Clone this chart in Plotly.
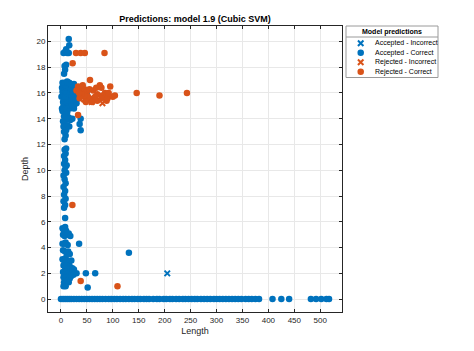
import plotly.graph_objects as go

# ---------------- data ----------------
# Accepted - Correct (blue circles)
ac_len_zero = [0, 4, 8, 12, 16, 20, 25, 30, 35, 40, 45, 50, 55, 60, 65, 70, 75, 80, 86, 92,
               97, 103, 108, 114, 120, 125, 131, 137, 142, 148, 153, 160, 165, 170, 178, 185,
               190, 198, 203, 210, 215, 222, 228, 235, 240, 246, 252, 258, 263, 270, 276, 282,
               288, 295, 300, 306, 312, 318, 324, 330, 336, 342, 348, 356, 362, 368, 375, 382,
               408, 425, 440, 482, 492, 502, 512, 517]
ac_dep_zero = [0] * len(ac_len_zero)

ac_len_low = [3, 5, 8, 10, 4, 7, 12, 15, 18, 3, 6, 9, 13, 35, 4, 8, 11, 14, 17, 3, 6, 9, 12, 16,
              20, 5, 8, 11, 14, 18, 22, 25, 4, 7, 10, 13, 16, 19, 22, 26, 30, 48, 66, 5, 8, 11,
              14, 17, 20, 24, 6, 9, 12, 15, 5, 9, 51.5, 131, 8]
ac_dep_low = [5.5, 5.4, 5.6, 5.3, 5.0, 4.9, 5.0, 5.1, 4.9, 4.3, 4.3, 4.4, 4.2, 4.3, 3.8, 3.7, 3.6,
              3.7, 3.5, 3.1, 3.0, 3.2, 3.0, 2.9, 3.0, 2.6, 2.5, 2.6, 2.4, 2.5, 2.4, 2.3, 2.1, 2.0,
              2.1, 2.0, 2.0, 2.1, 2.0, 2.0, 2.0, 2.0, 2.0, 1.7, 1.6, 1.7, 1.5, 1.6, 1.8, 1.9, 1.3,
              1.2, 1.4, 1.3, 1.0, 1.0, 0.9, 3.6, 6.3]

ac_len_mid = [6, 8, 5, 9, 6, 8, 5, 9, 7, 5, 10, 7, 9, 6, 11, 8, 6, 9, 7, 10,
              7, 9, 6, 10, 5, 12, 16, 36, 38, 38, 4, 8, 13, 18, 6, 11, 15, 22, 3, 7, 12, 17, 25,
              5, 10, 20]
ac_dep_mid = [7.1, 7.3, 7.6, 7.8, 8.1, 8.4, 8.7, 9.0, 9.3, 9.6, 9.8, 10.0, 10.3, 10.5, 10.4,
              10.8, 11.1, 11.3, 11.6, 11.7, 12.4, 12.7, 13.0, 13.1, 13.4, 13.5, 13.4, 13.6, 13.1,
              14.0, 13.8, 13.9, 14.0, 13.9, 14.2, 14.3, 14.1, 14.0, 14.6, 14.7, 14.5, 14.8, 14.8,
              15.0, 15.1, 15.0]

ac_len_top = [2, 6, 10, 14, 18, 22, 26, 30, 4, 8, 12, 16, 20, 24, 28, 34, 40, 1, 5, 9, 13, 17,
              21, 25, 29, 33, 38, 45, 50, 3, 7, 11, 15, 19, 23, 27, 31, 36, 42, 2, 6, 10, 14, 18,
              22, 26, 30, 35, 5, 9, 13, 17, 21, 25, 3, 8, 12, 16, 20,
              6, 8, 7, 10, 5, 8, 10, 12, 15, 16, 15]
ac_dep_top = [14.8, 14.9, 14.8, 14.9, 15.0, 15.0, 15.1, 15.2, 15.3, 15.4, 15.3, 15.4, 15.5, 15.4,
              15.5, 15.6, 15.8, 15.7, 15.8, 15.7, 15.8, 15.9, 15.8, 15.9, 16.0, 15.9, 16.0, 15.9,
              15.9, 16.1, 16.2, 16.1, 16.2, 16.1, 16.2, 16.3, 16.2, 16.1, 16.0, 16.4, 16.5, 16.4,
              16.5, 16.4, 16.5, 16.4, 16.3, 16.3, 16.7, 16.6, 16.8, 16.7, 16.6, 16.7, 16.8, 16.8,
              16.9, 16.8, 16.7, 17.5, 17.8, 18.1, 18.2, 19.1, 19.2, 19.4, 19.1, 19.1, 19.7, 20.2]

ac_len = ac_len_zero + ac_len_low + ac_len_mid + ac_len_top
ac_dep = ac_dep_zero + ac_dep_low + ac_dep_mid + ac_dep_top

# Accepted - Incorrect (blue crosses)
ai_len = [205, 26]
ai_dep = [2.0, 15.5]

# Rejected - Correct (orange circles)
rc_len = [38, 109, 22, 33, 22.5, 29, 38, 46, 84, 56, 33, 40, 45, 50, 55, 62, 68, 75, 78, 85, 80,
          70, 63, 58, 52, 45, 40, 36, 48, 60, 70, 78, 88, 90, 95, 100, 104, 92, 66, 30, 35, 42,
          146, 190, 243]
rc_dep = [1.4, 1.0, 7.3, 14.3, 18.3, 19.1, 19.1, 19.1, 19.1, 17.0, 16.5, 16.4, 16.3, 16.1, 16.3,
          16.2, 16.4, 16.6, 16.4, 16.0, 15.8, 15.9, 15.6, 15.5, 15.7, 15.8, 15.9, 15.6, 15.3,
          15.3, 15.4, 15.6, 15.4, 15.6, 16.5, 15.7, 15.8, 16.0, 15.7, 16.2, 16.0, 16.6,
          16.0, 15.8, 16.0]

# Rejected - Incorrect (orange crosses)
ri_len = [59, 45, 80]
ri_dep = [15.3, 15.5, 15.2]

x_ticks = [0, 50, 100, 150, 200, 250, 300, 350, 400, 450, 500]
y_ticks = [0, 2, 4, 6, 8, 10, 12, 14, 16, 18, 20]

legend_title = "Model predictions"
legend_names = ["Accepted - Incorrect", "Accepted - Correct",
                "Rejected - Incorrect", "Rejected - Correct"]

BLUE = "#0072BD"
ORANGE = "#D95319"
FONT = "Liberation Sans"
W, H = 474, 351
PL, PR, PT, PB = 48, 342, 26, 312   # plot box in pixels

def px(x):
    return x / W

def py(y):
    return 1 - y / H

x_marker = dict(symbol="x-thin", size=5.5, line=dict(width=2))
o_marker = dict(symbol="circle", size=6.5)
styles = [
    dict(x_marker, color=BLUE, line=dict(width=2, color=BLUE)),
    dict(o_marker, color=BLUE),
    dict(x_marker, color=ORANGE, line=dict(width=2, color=ORANGE)),
    dict(o_marker, color=ORANGE),
]

fig = go.Figure()
series = [(ai_len, ai_dep), (ac_len, ac_dep), (ri_len, ri_dep), (rc_len, rc_dep)]
for (xs, ys), name, st in zip(series, legend_names, styles):
    fig.add_trace(go.Scatter(x=xs, y=ys, mode="markers", name=name, marker=st,
                             showlegend=False, xaxis="x", yaxis="y"))

# ---- custom legend (MATLAB style, compact) ----
leg_x0, leg_x1, leg_y0, leg_y1 = 346, 438, 26, 77.5
row_y = [43.3, 52.7, 62.3, 71.7]
for name, st, ry in zip(legend_names, styles, row_y):
    fig.add_trace(go.Scatter(x=[360.7], y=[ry], mode="markers", marker=st,
                             showlegend=False, xaxis="x2", yaxis="y2", cliponaxis=False,
                             hoverinfo="skip"))

shapes = [
    dict(type="rect", xref="paper", yref="paper", x0=px(leg_x0), x1=px(leg_x1),
         y0=py(leg_y1), y1=py(leg_y0), line=dict(color="#9a9a9a", width=1),
         fillcolor="rgba(0,0,0,0)", layer="above"),
    dict(type="line", xref="paper", yref="paper", x0=px(leg_x0), x1=px(leg_x1),
         y0=py(37), y1=py(37), line=dict(color="#9a9a9a", width=1)),
]
annotations = [
    dict(text="<b>%s</b>" % legend_title, xref="paper", yref="paper",
         x=px((leg_x0 + leg_x1) / 2), y=py(31.5), xanchor="center", yanchor="middle",
         showarrow=False, font=dict(family=FONT, size=7, color="black")),
]
for name, ry in zip(legend_names, row_y):
    annotations.append(dict(text=name, xref="paper", yref="paper", x=px(373), y=py(ry),
                            xanchor="left", yanchor="middle", showarrow=False,
                            font=dict(family=FONT, size=7, color="black")))

axis_common = dict(showline=True, linecolor="#262626", linewidth=1, mirror="ticks",
                   ticks="inside", ticklen=3, tickcolor="#262626",
                   showgrid=True, gridcolor="#e8e8e8", gridwidth=1, zeroline=False,
                   tickfont=dict(family=FONT, size=8, color="#262626"))

fig.update_layout(
    width=W, height=H,
    margin=dict(l=0, r=0, t=0, b=0),
    paper_bgcolor="white", plot_bgcolor="rgba(0,0,0,0)",
    title=dict(text="<b>Predictions: model 1.9 (Cubic SVM)</b>", x=(PL + 147) / W,
               xanchor="center", y=1 - 19 / H, yanchor="middle",
               font=dict(family=FONT, size=9, color="black")),
    xaxis=dict(domain=[px(PL), px(PR)], anchor="y", range=[-25, 542], tickvals=x_ticks,
               title=dict(text="Length", font=dict(family=FONT, size=9, color="#262626"),
                          standoff=4), **axis_common),
    yaxis=dict(domain=[py(PB), py(PT)], anchor="x", range=[-1, 21.2], tickvals=y_ticks,
               title=dict(text="Depth", font=dict(family=FONT, size=9, color="#262626"),
                          standoff=6), **axis_common),
    xaxis2=dict(domain=[0, 1], anchor="y2", range=[0, W], visible=False, fixedrange=True),
    yaxis2=dict(domain=[0, 1], anchor="x2", range=[H, 0], visible=False, fixedrange=True),
    shapes=shapes,
    annotations=annotations,
    showlegend=False,
)

fig.write_html("out.html")
